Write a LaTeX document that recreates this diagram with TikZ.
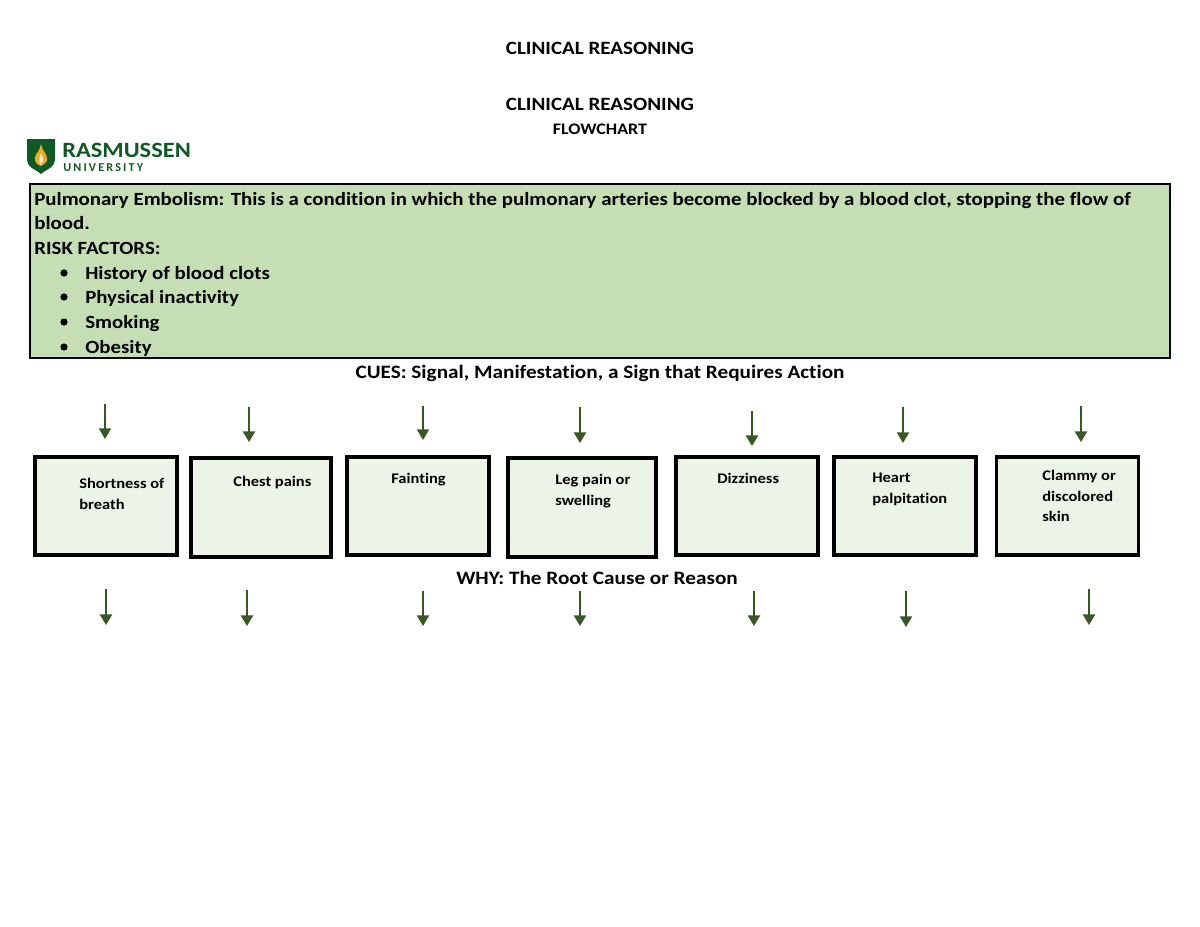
\documentclass[tikz,border=0pt]{standalone}
\usepackage{fontspec}
\setmainfont{Carlito}[FakeStretch=1.12,Ligatures=NoCommon]
\newfontfamily\logofont{Carlito}[LetterSpace=18,Ligatures=NoCommon]
\usetikzlibrary{positioning, arrows.meta}
\definecolor{bannerfill}{HTML}{C5DEB3}
\definecolor{cluefill}{HTML}{EBF4E6}
\definecolor{arrowgreen}{HTML}{385723}
\definecolor{logogreen}{HTML}{0F5A24}
\definecolor{flamegold}{HTML}{F2A922}
\tikzset{
	heading/.style={font=\bfseries\fontsize{12.4}{14}\selectfont, inner sep=0pt},
	bodytext/.style={font=\bfseries\fontsize{12.3}{16.2}\selectfont, anchor=north west, align=left, inner sep=0pt},
	cluebox/.style={draw=black, line width=2.5pt, fill=cluefill, minimum width=93.7pt, minimum height=64.7pt, inner sep=0pt},
	cluetext/.style={font=\bfseries\fontsize{9.7}{13.5}\selectfont, anchor=north west, align=left, inner sep=0pt},
	cuearrow/.style={draw=arrowgreen, line width=1.3pt, -{Triangle[length=7pt,width=8pt]}},
	thinarrow/.style={cuearrow, line width=0.8pt}
}
\begin{document}
\begin{tikzpicture}[x=0.66pt,y=-0.66pt]
			\useasboundingbox (0,0) rectangle (1200,927);
			% titles
			\node[heading] (title1) at (600,48) {CLINICAL REASONING};
			\node[heading] (title2) at (600,104) {CLINICAL REASONING};
			\node[heading,font=\bfseries\fontsize{10.6}{12}\selectfont] (title3) at (600,129) {FLOWCHART};
			% logo
			\fill[logogreen] (27,139) -- (55,139) -- (55,160) .. controls (55,167) and (47,169) .. (41,174) .. controls (35,169) and (27,167) .. (27,160) -- cycle;
			\fill[flamegold] (41,144) .. controls (42,151) and (48,154) .. (47,160) .. controls (46,164) and (42,165) .. (41,166) .. controls (37,165) and (34,161) .. (35,157) .. controls (36,153) and (40,151) .. (41,144) -- cycle;
			\fill[white!80!flamegold] (41,153) .. controls (42,156) and (44,158) .. (43,161) .. controls (42,163) and (41,164) .. (40,165) .. controls (39,162) and (39,157) .. (41,153) -- cycle;
			\node[font=\bfseries\fontsize{14.4}{16}\selectfont, text=logogreen, anchor=west, inner sep=0pt] (logo1) at (62,150) {RASMUSSEN};
			\node[font=\logofont\bfseries\fontsize{8}{9}\selectfont, text=logogreen, anchor=west, inner sep=0pt] (logo2) at (63,168) {UNIVERSITY};
			% banner
			\node[draw=black, line width=1.7pt, fill=bannerfill, minimum width=752.4pt, minimum height=114.8pt, inner sep=0pt] (banner) at (600,271) {};
			\node[bodytext] (risk) at (34,192) {Pulmonary Embolism: This is a condition in which the pulmonary arteries become blocked by a blood clot, stopping the flow of\\blood.\\RISK FACTORS:};
			\node[bodytext] (factors) at (85,266) {History of blood clots\\Physical inactivity\\Smoking\\Obesity};
			\foreach \y in {273,297,322,347} \fill (64,\y) circle (3.6);
			\node[heading,font=\bfseries\fontsize{12.5}{14}\selectfont] (cues) at (600,373) {CUES: Signal, Manifestation, a Sign that Requires Action};
			\node[heading,font=\bfseries\fontsize{12.5}{14}\selectfont] (why) at (597,578) {WHY: The Root Cause or Reason};
			% boxes
			\node[cluebox] (box1) at (106,506) {};
			\node[cluebox, minimum width=92.4pt, minimum height=65.3pt] (box2) at (261,507.5) {};
			\node[cluebox] (box3) at (418,506) {};
			\node[cluebox, minimum width=97.7pt, minimum height=65.3pt] (box4) at (582,507.5) {};
			\node[cluebox] (box5) at (747,506) {};
			\node[cluebox] (box6) at (905,506) {};
			\node[cluebox] (box7) at (1067.5,506) {};
			\node[cluetext] (clue1) at (79,478) {Shortness of\\breath};
			\node[cluetext] (clue2) at (233,476) {Chest pains};
			\node[cluetext] (clue3) at (391,473) {Fainting};
			\node[cluetext] (clue4) at (555,474) {Leg pain or\\swelling};
			\node[cluetext] (clue5) at (717,473) {Dizziness};
			\node[cluetext] (clue6) at (872,473) {Heart\\palpitation};
			\node[cluetext] (clue7) at (1042,470) {Clammy or\\discolored\\skin};
			% arrows
			\foreach \n/\x/\a/\b/\s in {1/105/404/439/thinarrow,2/249/407/442/cuearrow,3/423/406/440/thinarrow,4/580/407/443/cuearrow,5/752/411/446/cuearrow,6/903/407/443/thinarrow,7/1081/406/442/cuearrow}{
				\coordinate (top\n) at (\x,\a);
				\coordinate (tip\n) at (\x,\b);
				\draw[\s] (top\n) -- (tip\n);
			}
			\foreach \n/\x/\a/\b/\s in {1/106/589/625/cuearrow,2/247/590/626/cuearrow,3/423/591/626/thinarrow,4/580/591/626/cuearrow,5/754/591/626/cuearrow,6/906/591/627/thinarrow,7/1089/589/625/cuearrow}{
				\coordinate (low\n) at (\x,\a);
				\coordinate (end\n) at (\x,\b);
				\draw[\s] (low\n) -- (end\n);
			}
	\end{tikzpicture}
\end{document}
